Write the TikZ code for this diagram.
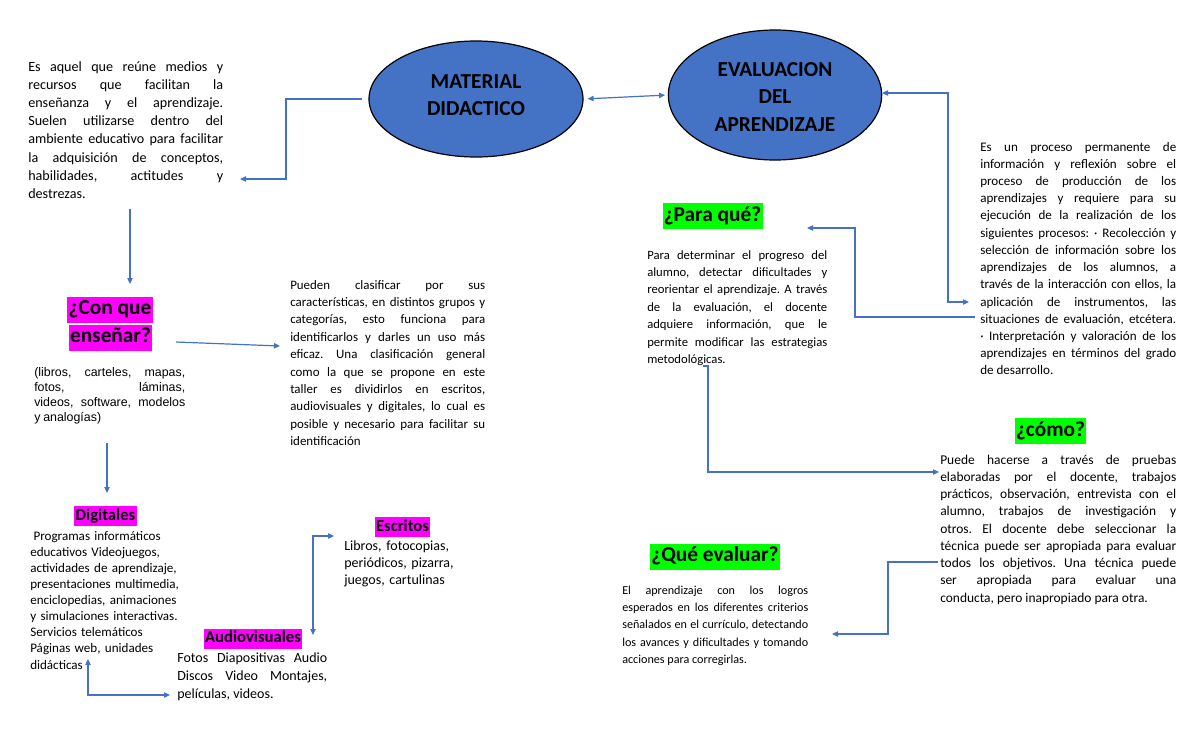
\documentclass[tikz,border=0pt]{standalone}
\usepackage{fontspec}
\setmainfont{Carlito}
\newfontfamily\arialf{Liberation Sans}
\usetikzlibrary{arrows.meta,shapes.geometric}
\definecolor{evblue}{HTML}{4472C4}
\definecolor{hlmag}{HTML}{FF00FF}
\definecolor{hlgreen}{HTML}{00FF00}
\frenchspacing
\newcommand{\jset}{\frenchspacing\spaceskip=0.226em plus 0.8em minus 0.06em\relax\tolerance=10000\relax\hyphenpenalty=10000\relax\exhyphenpenalty=10000\relax}
\begin{document}
\begin{tikzpicture}[x=0.75pt,y=-0.75pt,
  conn/.style={draw=evblue, line width=0.9pt},
  tip/.style={-{Triangle[length=4.5pt,width=4pt]}},
  tips/.style={{Triangle[length=4.5pt,width=4pt]}-{Triangle[length=4.5pt,width=4pt]}},
  bubble/.style={ellipse, draw=black, line width=0.9pt, fill=evblue, inner sep=0},
  bubtext/.style={font=\bfseries\fontsize{16}{20.5}\selectfont, align=center, text=black, inner sep=0},
  body/.style={anchor=base west, inner sep=0, align=justify},
  rag/.style={anchor=base west, inner sep=0, align=left},
  bigh/.style={inner xsep=1pt, inner ysep=0, font=\bfseries\fontsize{16}{19}\selectfont, text height=11.5pt, text depth=3.5pt, minimum height=19.5pt},
  smallh/.style={inner xsep=1pt, inner ysep=0, font=\bfseries\fontsize{12.5}{15}\selectfont, text height=9pt, text depth=3pt, minimum height=15pt},
]
\fill[white] (0,0) rectangle (1200,729);
\useasboundingbox (0,0) rectangle (1200,729);

% ellipses
\node[bubble, minimum width=160.5pt, minimum height=87pt] (mat) at (476,99) {};
\node[bubtext] (matt) at (476,95) {MATERIAL\\DIDACTICO};
\node[bubble, minimum width=160pt, minimum height=97.5pt] (eva) at (775,95) {};
\node[bubtext] (evat) at (775,97) {EVALUACION\\DEL\\APRENDIZAJE};

% left definition text
\node[body, text width=146.25pt, font=\fontsize{10.6}{13.65}\selectfont] (def) at (28,71) {\jset
Es aquel que reúne medios y\linebreak
recursos que facilitan la\linebreak
enseñanza y el aprendizaje.\linebreak
Suelen utilizarse dentro del\linebreak
ambiente educativo para facilitar\linebreak
la adquisición de conceptos,\linebreak
habilidades, actitudes y\linebreak
destrezas.};

% Con que enseñar
\node[bigh, fill=hlmag] (cq1) at (110,309.5) {¿Con que};
\node[bigh, fill=hlmag] (cq2) at (110.5,337.5) {enseñar?};

\node[body, text width=113.25pt, font=\arialf\fontsize{9.3}{11.25}\selectfont] (list) at (34,376) {\jset
(libros, carteles, mapas,\linebreak
fotos, láminas,\linebreak
videos, software, modelos\linebreak
y analogías)};

\node[body, text width=146.25pt, font=\fontsize{9.7}{13.05}\selectfont] (pueden) at (290,289) {\jset
Pueden clasificar por sus\linebreak
características, en distintos grupos y\linebreak
categorías, esto funciona para\linebreak
identificarlos y darles un uso más\linebreak
eficaz. Una clasificación general\linebreak
como la que se propone en este\linebreak
taller es dividirlos en escritos,\linebreak
audiovisuales y digitales, lo cual es\linebreak
posible y necesario para facilitar su\linebreak
identificación};

% Digitales
\node[smallh, fill=hlmag] (dig) at (105.5,516) {Digitales};
\node[rag, text width=150pt, font=\fontsize{9.8}{12.1}\selectfont] (digt) at (30,540) {%
\hspace*{2.5pt}Programas informáticos\\
educativos Videojuegos,\\
actividades de aprendizaje,\\
presentaciones multimedia,\\
enciclopedias, animaciones\\
y simulaciones interactivas.\\
Servicios telemáticos\\
Páginas web, unidades\\
didácticas};

% Audiovisuales
\node[smallh, fill=hlmag] (aud) at (253,638.5) {Audiovisuales};
\node[body, text width=112.5pt, font=\fontsize{10.5}{13.5}\selectfont] (audt) at (177,662) {\jset
Fotos Diapositivas Audio\linebreak
Discos Video Montajes,\linebreak
películas, videos.};

% Escritos
\node[smallh, fill=hlmag] (esc) at (402.5,527) {Escritos};
\node[rag, text width=100pt, font=\fontsize{10.5}{13.1}\selectfont] (esct) at (344,550) {%
Libros, fotocopias,\\
periódicos, pizarra,\\
juegos, cartulinas};

% Para que
\node[bigh, fill=hlgreen] (pq) at (712.5,216) {¿Para qué?};
\node[body, text width=135pt, font=\fontsize{9.5}{13.1}\selectfont] (pqt) at (647,259) {\jset
Para determinar el progreso del\linebreak
alumno, detectar dificultades y\linebreak
reorientar el aprendizaje. A través\linebreak
de la evaluación, el docente\linebreak
adquiere información, que le\linebreak
permite modificar las estrategias\linebreak
metodológicas.};

% right text
\node[body, text width=147pt, font=\fontsize{9.8}{12.92}\selectfont] (proc) at (980,151) {\jset
Es un proceso permanente de\linebreak
información y reflexión sobre el\linebreak
proceso de producción de los\linebreak
aprendizajes y requiere para su\linebreak
ejecución de la realización de los\linebreak
siguientes procesos: · Recolección y\linebreak
selección de información sobre los\linebreak
aprendizajes de los alumnos, a\linebreak
través de la interacción con ellos, la\linebreak
aplicación de instrumentos, las\linebreak
situaciones de evaluación, etcétera.\linebreak
· Interpretación y valoración de los\linebreak
aprendizajes en términos del grado\linebreak
de desarrollo.};

% como
\node[bigh, fill=hlgreen] (como) at (1050.5,431) {¿cómo?};
\node[body, text width=177pt, font=\fontsize{10.1}{12.94}\selectfont] (comot) at (940,464) {\jset
Puede hacerse a través de pruebas\linebreak
elaboradas por el docente, trabajos\linebreak
prácticos, observación, entrevista con el\linebreak
alumno, trabajos de investigación y\linebreak
otros. El docente debe seleccionar la\linebreak
técnica puede ser apropiada para evaluar\linebreak
todos los objetivos. Una técnica puede\linebreak
ser apropiada para evaluar una\linebreak
conducta, pero inapropiado para otra.};

% Que evaluar
\node[bigh, fill=hlgreen] (qe) at (715,556.5) {¿Qué evaluar?};
\node[body, text width=139.5pt, font=\fontsize{9.1}{13.1}\selectfont] (qet) at (622,594) {\jset
El aprendizaje con los logros\linebreak
esperados en los diferentes criterios\linebreak
señalados en el currículo, detectando\linebreak
los avances y dificultades y tomando\linebreak
acciones para corregirlas.};

% connector coordinates
\coordinate (a1) at (362,99);
\coordinate (a2) at (240,179);
\coordinate (b1) at (130,209);
\coordinate (b2) at (130,284);
\coordinate (c1) at (176,342);
\coordinate (c2) at (280,346);
\coordinate (d1) at (107,443);
\coordinate (d2) at (107,493);
\coordinate (e1) at (88,659);
\coordinate (e2) at (170,695);
\coordinate (f1) at (313,635);
\coordinate (f2) at (334,536);
\coordinate (g1) at (882,93);
\coordinate (g2) at (969,302);
\coordinate (h1) at (975,317);
\coordinate (h2) at (807,228);
\coordinate (i1) at (703,366);
\coordinate (i2) at (939,472);
\coordinate (j1) at (938,562);
\coordinate (j2) at (832,634);

% connectors
\draw[conn,tips,shorten <=3pt,shorten >=2pt] (mat.east) -- (eva.west);
\draw[conn,tip] (a1) -- (286,99) |- (a2);
\draw[conn,tip] (b1) -- (b2);
\draw[conn,tip] (c1) -- (c2);
\draw[conn,tip] (d1) -- (d2);
\draw[conn,tips] (e1) |- (e2);
\draw[conn,tips] (f1) |- (f2);
\draw[conn,tips] (g1) -| (948,200) |- (g2);
\draw[conn,tip] (h1) -| (855,270) |- (h2);
\draw[conn,tip] (i1) -- (708,366) |- (i2);
\draw[conn,tip] (j1) -| (888,600) |- (j2);
\end{tikzpicture}
\end{document}
